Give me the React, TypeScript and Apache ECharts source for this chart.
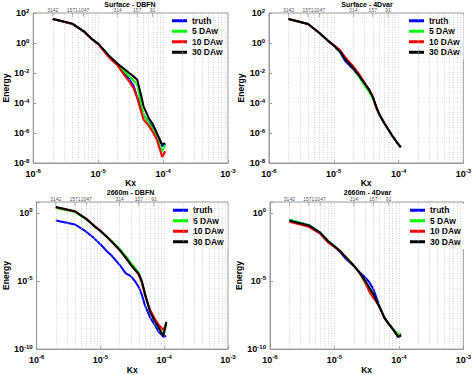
import { useEffect, useRef } from 'react';
import * as echarts from 'echarts';

// ---- data ----
const kx = [2e-6, 4e-6, 6e-6, 8e-6, 1e-5, 1.25e-5, 1.5e-5, 2e-5, 2.5e-5, 3e-5, 3.5e-5, 4e-5, 4.5e-5, 5e-5, 6e-5, 7e-5, 8e-5, 9.7e-5, 1.08e-4];
const seriesNames = ['truth', '5 DAw', '10 DAw', '30 DAw'];
const seriesColors = ['#0000ff', '#00ff00', '#ff0000', '#000000'];
const panelTitles = ['Surface - DBFN', 'Surface - 4Dvar', '2660m - DBFN', '2660m - 4Dvar'];
const topTickKx = [2e-6, 4e-6, 6e-6, 2e-5, 4e-5, 6.9e-5];
const topTickLabels = ['3142', '1571', '1047', '314', '157', '91'];

// Surface - DBFN
const surfDbfnTruth = [40, 19, 6.0, 1.82, 0.87, 0.28, 0.11, 0.035, 0.01, 4.0e-3, 1.45e-3, 2.5e-4, 6.0e-5, 1.66e-5, 5.1e-6, 2.1e-6, 6.6e-7, 1.3e-7, 1.95e-7];
const surfDbfn5 = [40, 19, 6.0, 1.82, 0.87, 0.3, 0.115, 0.038, 0.0129, 6.0e-3, 3.2e-3, 1.66e-3, 1.3e-4, 1.66e-5, 4.7e-6, 1.66e-6, 4.7e-7, 6.0e-8, 1.66e-7];
const surfDbfn10 = [40, 18.6, 6.0, 1.78, 0.83, 0.26, 0.1, 0.031, 7.8e-3, 2.75e-3, 1.0e-3, 2.1e-4, 3.6e-5, 7.8e-6, 3.1e-6, 1.1e-6, 3.6e-7, 2.5e-8, 6.0e-8];
const surfDbfn30 = [40, 19.5, 6.0, 1.86, 0.91, 0.32, 0.13, 0.042, 0.019, 0.01, 6.0e-3, 3.6e-3, 4.7e-4, 6.0e-5, 1.0e-5, 3.6e-6, 1.0e-6, 1.66e-7, 2.1e-7];

// Surface - 4Dvar
const surf4dTruth = [40, 18.6, 4.7, 1.5, 0.66, 0.24, 0.063, 0.0178, 5.6e-3, 1.95e-3, 7.8e-4, 2.5e-4, 6.0e-5, 1.95e-5, 4.7e-6, 1.66e-6, 6.6e-7, 2.0e-7, 1.15e-7];
const surf4d5 = [40, 18.6, 4.7, 1.5, 0.69, 0.275, 0.085, 0.021, 5.0e-3, 1.4e-3, 5.6e-4, 2.0e-4, 5.0e-5, 1.6e-5, 4.7e-6, 1.66e-6, 6.6e-7, 2.0e-7, 1.15e-7];
const surf4d10 = [40, 18.6, 4.7, 1.5, 0.72, 0.34, 0.112, 0.028, 7.6e-3, 2.2e-3, 7.9e-4, 2.8e-4, 5.0e-5, 1.95e-5, 4.7e-6, 1.66e-6, 6.6e-7, 2.0e-7, 1.15e-7];
const surf4d30 = [40, 18.6, 4.7, 1.5, 0.69, 0.275, 0.085, 0.021, 6.0e-3, 1.95e-3, 7.8e-4, 2.5e-4, 6.0e-5, 1.95e-5, 4.7e-6, 1.66e-6, 6.6e-7, 2.0e-7, 1.15e-7];

// 2660m - DBFN
const deepDbfnTruth = [0.275, 0.141, 0.042, 0.0135, 5.0e-3, 1.62e-3, 7.4e-4, 1.55e-4, 3.6e-5, 2.3e-5, 9.5e-6, 3.5e-6, 8.7e-7, 1.62e-7, 2.1e-8, 6.8e-9, 2.2e-9, 8.1e-10, 9.1e-10];
const deepDbfn5 = [2.3, 1.15, 0.35, 0.107, 0.047, 0.019, 8.7e-3, 2.3e-3, 6.6e-4, 2.2e-4, 8.7e-5, 3.8e-5, 7.9e-6, 1.15e-6, 6.3e-8, 1.41e-8, 5.0e-9, 1.0e-9, 6.3e-9];
const deepDbfn10 = [2.63, 1.26, 0.38, 0.112, 0.05, 0.019, 7.9e-3, 1.9e-3, 5.0e-4, 1.58e-4, 6.5e-5, 2.8e-5, 6.3e-6, 8.9e-7, 7.9e-8, 2.0e-8, 7.1e-9, 2.5e-9, 7.9e-9];
const deepDbfn30 = [2.75, 1.32, 0.35, 0.107, 0.047, 0.0178, 7.8e-3, 1.9e-3, 5.0e-4, 1.55e-4, 6.5e-5, 3.3e-5, 8.5e-6, 1.15e-6, 5.4e-8, 1.32e-8, 4.8e-9, 9.1e-10, 1.0e-8];

// 2660m - 4Dvar
const deep4dTruth = [0.31, 0.126, 3.55e-2, 8.3e-3, 3.55e-3, 1.23e-3, 4.3e-4, 1.26e-4, 4.1e-5, 1.86e-5, 7.8e-6, 2.6e-6, 5.9e-7, 1.38e-7, 1.86e-8, 6.8e-9, 3.1e-9, 7.9e-10, 9.1e-10];
const deep4d5 = [0.31, 0.126, 3.7e-2, 8.7e-3, 3.7e-3, 1.5e-3, 6.0e-4, 1.38e-4, 3.2e-5, 6.9e-6, 2.0e-6, 8.7e-7, 3.5e-7, 1.32e-7, 2.0e-8, 7.6e-9, 3.5e-9, 1.26e-9, 1.41e-9];
const deep4d10 = [0.224, 9.5e-2, 2.95e-2, 6.6e-3, 3.2e-3, 1.38e-3, 5.6e-4, 1.32e-4, 3.6e-5, 8.1e-6, 1.5e-6, 5.9e-7, 2.8e-7, 1.23e-7, 1.86e-8, 6.8e-9, 3.1e-9, 8.7e-10, 1.07e-9];
const deep4d30 = [0.27, 0.12, 3.55e-2, 8.3e-3, 3.55e-3, 1.45e-3, 5.6e-4, 1.32e-4, 3.6e-5, 1.07e-5, 3.2e-6, 1.15e-6, 3.4e-7, 1.23e-7, 1.86e-8, 6.8e-9, 3.1e-9, 7.9e-10, 1.07e-9];

const panelSeries = [
  [surfDbfnTruth, surfDbfn5, surfDbfn10, surfDbfn30],
  [surf4dTruth, surf4d5, surf4d10, surf4d30],
  [deepDbfnTruth, deepDbfn5, deepDbfn10, deepDbfn30],
  [deep4dTruth, deep4d5, deep4d10, deep4d30],
];
const yMin = [1e-8, 1e-8, 1e-10, 1e-10];
const yMax = [100, 100, 6.3, 6.3];
const yStep = [2, 2, 5, 5];
const gridMultipliers = [1, 2, 3, 4, 5, 6, 7, 8, 9];
const gridDecades = [1e-6, 1e-5, 1e-4];

// ---- layout ----
const grids = [
  { left: 32, top: 13, width: 196, height: 150 },
  { left: 269, top: 13, width: 196, height: 150 },
  { left: 33, top: 202, width: 195, height: 148.5 },
  { left: 270, top: 202, width: 195, height: 148.5 },
];
const FONT = 'Liberation Sans, Arial, Helvetica, sans-serif';

const powLabel = (step: number) => (v: number) => {
  const e = Math.log10(v);
  const r = Math.round(e);
  if (Math.abs(e - r) > 1e-6 || r % step !== 0) return '';
  return `{b|10}{s|${r}}`;
};
const richLabel = {
  b: { fontSize: 9, fontWeight: 'bold', fontFamily: FONT, color: '#000' },
  s: { fontSize: 6, fontWeight: 'bold', fontFamily: FONT, color: '#000', padding: [0, 0, 5, 0] },
};

export default function App() {
  const ref = useRef<HTMLDivElement>(null);
  useEffect(() => {
    if (!ref.current) return;
    const chart = echarts.init(ref.current, undefined, { renderer: 'svg' });
    const gridLines: number[] = [];
    gridDecades.forEach((d) => gridMultipliers.forEach((m) => {
      const v = d * m;
      if (v > 1e-6 * 1.01) gridLines.push(v);
    }));

    const series: any[] = [];
    grids.forEach((_, i) => {
      series.push({
        type: 'scatter',
        xAxisIndex: i,
        yAxisIndex: i,
        silent: true,
        symbol: 'rect',
        symbolSize: [0.7, 4],
        symbolOffset: [0, 2],
        itemStyle: { color: '#777' },
        data: topTickKx.map((x, j) => [x, yMax[i], topTickLabels[j]]),
        label: {
          show: true,
          position: 'top',
          distance: 1,
          formatter: (p: any) => p.data[2],
          fontSize: 5,
          fontFamily: FONT,
          color: '#222',
        },
        z: 1,
      });
      panelSeries[i].forEach((vals, j) => {
        const s: any = {
          type: 'line',
          name: seriesNames[j],
          xAxisIndex: i,
          yAxisIndex: i,
          data: kx.map((x, k) => [x, vals[k]]),
          showSymbol: false,
          symbol: 'none',
          silent: true,
          lineStyle: { width: 2, color: seriesColors[j] },
          itemStyle: { color: seriesColors[j] },
          z: 3 + j,
        };
        if (j === 0) {
          s.markLine = {
            silent: true,
            symbol: ['none', 'none'],
            label: { show: false },
            lineStyle: { type: [1, 1.5], color: '#c4c4c4', width: 0.8 },
            emphasis: { disabled: true },
            data: gridLines.map((v) => [{ coord: [v, yMin[i]] }, { coord: [v, yMax[i]] }]),
          };
        }
        series.push(s);
      });
    });

    const option: any = {
      animation: false,
      grid: grids.map((g) => ({ ...g, show: true, borderColor: '#999', borderWidth: 1, containLabel: false })),
      xAxis: grids.map((_, i) => ({
        type: 'log',
        logBase: 10,
        gridIndex: i,
        min: 1e-6,
        max: 1e-3,
        interval: 1,
        axisLine: { show: true, lineStyle: { color: '#999', width: 1 } },
        axisTick: { show: true, inside: true, length: 3, lineStyle: { color: '#999' } },
        splitLine: { show: false },
        axisLabel: { formatter: powLabel(1), rich: richLabel, margin: 5 },
        name: 'Kx',
        nameLocation: 'middle',
        nameGap: 15,
        nameTextStyle: { fontSize: 8.5, fontWeight: 'bold', fontFamily: FONT, color: '#000' },
      })),
      yAxis: grids.map((_, i) => ({
        type: 'log',
        logBase: 10,
        gridIndex: i,
        min: yMin[i],
        max: yMax[i],
        interval: yStep[i],
        axisLine: { show: true, lineStyle: { color: '#999', width: 1 } },
        axisTick: { show: true, inside: true, length: 3, lineStyle: { color: '#999' } },
        splitLine: { show: false },
        axisLabel: { formatter: powLabel(yStep[i]), rich: richLabel, margin: 4 },
        name: 'Energy',
        nameLocation: 'middle',
        nameGap: 20,
        nameRotate: 90,
        nameTextStyle: { fontSize: 8.5, fontWeight: 'bold', fontFamily: FONT, color: '#000' },
      })),
      legend: grids.map((g, i) => ({
        orient: 'vertical',
        left: g.left + 137,
        top: i < 2 ? 14.5 : 204,
        itemWidth: 15,
        itemHeight: 3,
        itemGap: 0,
        icon: 'rect',
        padding: [1, 4, 2, 3],
        backgroundColor: '#fff',
        selectedMode: false,
        data: seriesNames,
        textStyle: { fontSize: 8.5, fontWeight: 'bold', fontFamily: FONT, color: '#000', lineHeight: 10.5 },
      })),
      graphic: grids.map((g, i) => ({
        type: 'text',
        x: g.left + g.width / 2,
        y: i < 2 ? 4 : 192,
        silent: true,
        style: {
          text: panelTitles[i],
          fontSize: 7,
          fontWeight: 'bold',
          fontFamily: FONT,
          fill: '#000',
          align: 'center',
          verticalAlign: 'middle',
        },
      })),
      series,
    };
    chart.setOption(option);
    return () => chart.dispose();
  }, []);
  return (
    <div
      ref={ref}
      style={{ position: 'absolute', left: 0, top: 0, width: 474, height: 375, background: '#fff' }}
    />
  );
}
